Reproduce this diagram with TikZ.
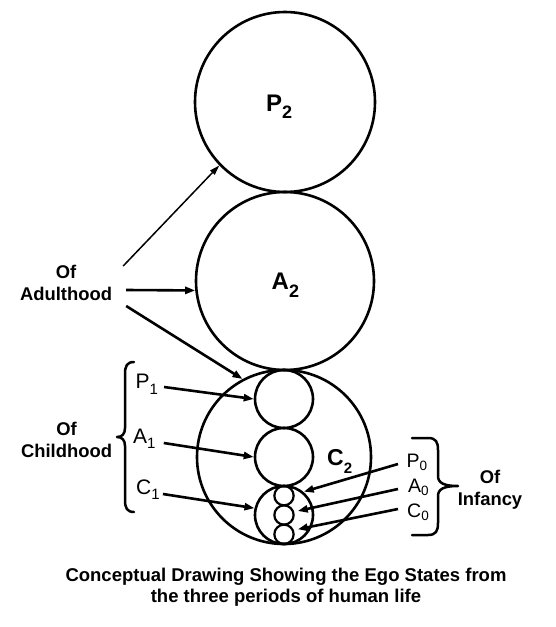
\documentclass[tikz,border=0pt]{standalone}
\usepackage{fontspec}
\setmainfont{Liberation Sans}
\usetikzlibrary{arrows.meta,calc}
\newcommand{\egolbl}[5]{{\fontsize{#3}{#3}\selectfont #1}\raisebox{-#5pt}{\fontsize{#4}{#4}\selectfont #2}}
\begin{document}
\begin{tikzpicture}[x=1pt,y=-1pt,
  ring/.style={draw,circle,line width=2.6pt,inner sep=0pt},
  tinyring/.style={draw,circle,line width=2.2pt,inner sep=0pt,minimum size=19.3pt},
  word/.style={font=\fontsize{18.4}{22}\selectfont\bfseries,align=center,inner sep=0pt},
  lab/.style={inner sep=0pt,anchor=base west},
  arr/.style={line width=2.6pt,-{Triangle[length=10pt,width=7pt]}},
  thinarr/.style={line width=1.5pt,-{Triangle[length=10pt,width=6pt]}},
  bracepath/.style={line width=2.5pt,line cap=round,line join=round}]
\useasboundingbox (0,0) rectangle (556,627);
% circles
\node[ring,minimum size=180pt] (P2) at (285,102) {};
\node[ring,minimum size=178pt] (A2) at (285,281) {};
\node[ring,minimum size=174pt] (C2) at (284,457) {};
\node[ring,minimum size=58pt] (P1c) at (284,399) {};
\node[ring,minimum size=58pt] (A1c) at (284,457) {};
\node[ring,minimum size=58pt] (C1c) at (284,515) {};
\node[tinyring] (P0c) at (284,495.7) {};
\node[tinyring] (A0c) at (284,515) {};
\node[tinyring] (C0c) at (284,534.3) {};
% circle labels
\node[lab,font=\bfseries] (P2l) at (266,111) {\egolbl{P}{2}{24}{18}{7}};
\node[lab,font=\bfseries] (A2l) at (271.5,289) {\egolbl{A}{2}{24}{18}{8}};
\node[lab,font=\bfseries] (C2l) at (327,465) {\egolbl{C}{2}{23}{15}{8}};
\node[lab] (P1l) at (135.3,388) {\egolbl{P}{1}{21}{15}{6}};
\node[lab] (A1l) at (133,443) {\egolbl{A}{1}{21}{15}{5}};
\node[lab] (C1l) at (136,494) {\egolbl{C}{1}{21}{15}{5}};
\node[lab] (P0l) at (406.4,467) {\egolbl{P}{0}{19.5}{13.5}{3}};
\node[lab] (A0l) at (408,492) {\egolbl{A}{0}{19.5}{13.5}{3}};
\node[lab] (C0l) at (407,517) {\egolbl{C}{0}{19.5}{13.5}{3}};
% group words
\node[word] (adult) at (66,283) {Of\\Adulthood};
\node[word] (child) at (66.5,440) {Of\\Childhood};
\node[word,anchor=north] (infant) at (490,469.6) {Of\\Infancy};
% caption
\node[font=\fontsize{18.5}{21}\selectfont\bfseries,align=center,inner sep=0pt,anchor=north] (cap) at (286,567.5)
  {Conceptual Drawing Showing the Ego States from\\the three periods of human life};
% braces
\draw[bracepath] (134,362) .. controls (127,362) and (125,366) .. (125,374) -- (125,428)
  .. controls (125,434) and (122,437) .. (117,437) .. controls (122,437) and (125,440) .. (125,446)
  -- (125,500) .. controls (125,508) and (127,512) .. (134,512);
\draw[bracepath] (412,438) -- (428,438) .. controls (436,438) and (438,442) .. (438,450) -- (438,476)
  .. controls (438,483) and (444,486) .. (458,486) .. controls (444,486) and (438,489) .. (438,496)
  -- (438,523) .. controls (438,531) and (436,535) .. (428,535) -- (412,535);
% adulthood arrows
\draw[thinarr] ([shift={(11,-17)}]adult.east) -- (P2.224);
\draw[arr] ([shift={(14,7)}]adult.east) -- (A2.186);
\draw[arr] ([shift={(14,23)}]adult.east) -- (C2.118);
% childhood arrows
\draw[arr] ([shift={(6,-1)}]P1l.base east) -- (P1c.west);
\draw[arr] ([shift={(8,0)}]A1l.base east) -- (A1c.west);
\draw[arr] ([shift={(3,0)}]C1l.base east) -- (C1c.167);
% infancy arrows
\draw[arr] ([shift={(-8.4,-3)}]P0l.base west) -- ([shift={(9,-4)}]P0c.east);
\draw[arr] ([shift={(-10,-3)}]A0l.base west) -- ([shift={(3,-4)}]A0c.east);
\draw[arr] ([shift={(-9,-8)}]C0l.base west) -- ([shift={(3,-5)}]C0c.east);
\end{tikzpicture}
\end{document}
